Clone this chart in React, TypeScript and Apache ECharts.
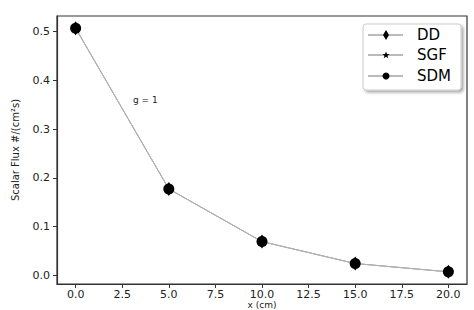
import React, { useEffect, useRef } from "react";
import * as echarts from "echarts";

const xValues = [0, 5, 10, 15, 20];
const ddValues = [0.507, 0.177, 0.069, 0.024, 0.007];
const sgfValues = [0.507, 0.177, 0.069, 0.024, 0.007];
const sdmValues = [0.507, 0.177, 0.069, 0.024, 0.007];
const seriesNames = ["DD", "SGF", "SDM"];
const xTicks = [0, 2.5, 5, 7.5, 10, 12.5, 15, 17.5, 20];
const yTicks = [0, 0.1, 0.2, 0.3, 0.4, 0.5];

const STAR = "path://M50,0 L61,35 L98,35 L68,57 L79,91 L50,70 L21,91 L32,57 L2,35 L39,35 Z";
const FONT = "DejaVu Sans";

export default function App() {
  const ref = useRef<HTMLDivElement>(null);
  useEffect(() => {
    const chart = echarts.init(ref.current!, null, { renderer: "svg" });
    const pairs = (vals: number[]) => xValues.map((x, i) => [x, vals[i]]);
    const mk = (name: string, vals: number[], symbol: string, size: any) => ({
      name,
      type: "line",
      data: pairs(vals),
      symbol,
      symbolSize: size,
      showAllSymbol: true,
      lineStyle: { color: "#b0b0b0", width: 1 },
      itemStyle: { color: "#000", borderWidth: 0 },
      emphasis: { disabled: true },
    });
    const rowsY = [35, 55, 76];
    const legendItems: any[] = [];
    const markerShapes = [
      (cy: number) => ({ type: "polygon", shape: { points: [[386, cy - 5], [389, cy], [386, cy + 5], [383, cy]] }, style: { fill: "#000" } }),
      (cy: number) => ({ type: "polygon", shape: { points: [[386, cy - 3.5], [387, cy - 1], [389.5, cy - 1], [387.5, cy + 0.8], [388.3, cy + 3.3], [386, cy + 1.8], [383.7, cy + 3.3], [384.5, cy + 0.8], [382.5, cy - 1], [385, cy - 1]] }, style: { fill: "#000" } }),
      (cy: number) => ({ type: "circle", shape: { cx: 386, cy, r: 3.5 }, style: { fill: "#000" } }),
    ];
    seriesNames.forEach((n, i) => {
      const cy = rowsY[i];
      legendItems.push({ type: "line", shape: { x1: 368, y1: cy, x2: 403, y2: cy }, style: { stroke: "#777", lineWidth: 1 } });
      legendItems.push(markerShapes[i](cy));
      legendItems.push({ type: "text", x: 417, y: cy, style: { text: n, fill: "#000", font: `15px "${FONT}"`, textVerticalAlign: "middle" } });
    });
    chart.setOption({
      animation: false,
      grid: { left: 57, top: 16, right: 7, bottom: 26, outerBoundsMode: "none", containLabel: false, show: true, borderColor: "#333", borderWidth: 1.2 },
      xAxis: {
        type: "value",
        min: -1,
        max: 21,
        name: "x (cm)",
        nameLocation: "middle",
        nameGap: 16.5,
        nameMoveOverlap: false,
        nameTextStyle: { fontFamily: FONT, fontSize: 9, color: "#222", verticalAlign: "top", lineHeight: 9 },
        axisLine: { show: true, onZero: false, lineStyle: { color: "#333", width: 1.2 } },
        axisTick: { show: true, customValues: xTicks, length: 4, lineStyle: { color: "#333" } },
        axisLabel: { customValues: xTicks, formatter: (v: number) => v.toFixed(1), fontFamily: FONT, fontSize: 11, lineHeight: 11, color: "#222", margin: 5 },
        splitLine: { show: false },
      },
      yAxis: {
        type: "value",
        min: -0.018,
        max: 0.532,
        name: "Scalar Flux #/(cm²s)",
        nameLocation: "middle",
        nameGap: 37,
        nameMoveOverlap: false,
        nameTextStyle: { fontFamily: FONT, fontSize: 10, color: "#222" },
        axisLine: { show: true, onZero: false, lineStyle: { color: "#333", width: 1.2 } },
        axisTick: { show: true, customValues: yTicks, length: 4, lineStyle: { color: "#333" } },
        axisLabel: { customValues: yTicks, formatter: (v: number) => v.toFixed(1), fontFamily: FONT, fontSize: 11, color: "#222", margin: 7 },
        splitLine: { show: false },
      },
      series: [
        mk(seriesNames[0], ddValues, "diamond", [10, 14]),
        mk(seriesNames[1], sgfValues, STAR, 10),
        mk(seriesNames[2], sdmValues, "circle", 11),
      ],
      graphic: [
        { type: "text", x: 133, y: 100, style: { text: "g = 1", fill: "#222", font: `9px "${FONT}"`, textVerticalAlign: "middle" } },
        {
          type: "rect",
          shape: { x: 363, y: 24, width: 98, height: 66, r: 3 },
          style: { fill: "#fff", stroke: "#ccc", lineWidth: 1, shadowBlur: 3, shadowOffsetX: 2, shadowOffsetY: 2, shadowColor: "rgba(0,0,0,0.35)" },
        },
        ...legendItems,
      ],
    });
    return () => chart.dispose();
  }, []);
  return <div ref={ref} style={{ width: 474, height: 310, position: "absolute", left: 0, top: 0 }} />;
}
